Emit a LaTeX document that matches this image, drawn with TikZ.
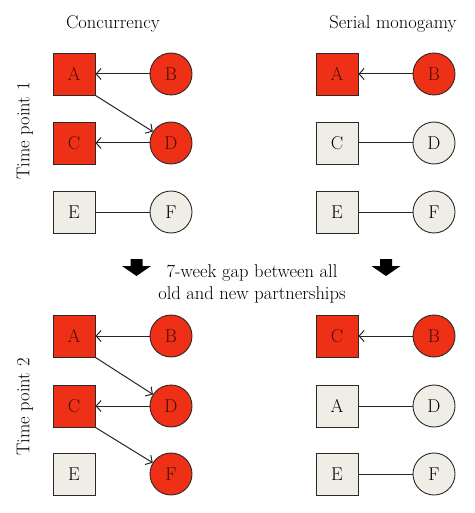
\documentclass[tikz,border=0pt]{standalone}
\usetikzlibrary{arrows.meta}
\definecolor{nred}{RGB}{238,48,22}
\definecolor{ngray}{RGB}{239,238,230}
\definecolor{nedge}{RGB}{45,40,38}
\definecolor{rtext}{RGB}{70,12,5}
\begin{document}
\begin{tikzpicture}[x=1pt,y=-1pt,
  every node/.style={font=\fontsize{18.5}{22}\selectfont},
  sq/.style={draw=nedge,line width=0.9pt,minimum size=42pt,inner sep=0pt},
  ci/.style={draw=nedge,line width=0.9pt,circle,minimum size=42pt,inner sep=0pt},
  red/.style={fill=nred,text=rtext},
  gry/.style={fill=ngray,text=black},
  lnk/.style={draw=black!85,line width=1pt},
  arr/.style={lnk,-{Straight Barb[length=5pt,width=11pt,line width=1pt]}},
  blk/.style={fill=black},
  lab/.style={font=\fontsize{18.5}{22}\selectfont}
]
\useasboundingbox (0,0) rectangle (474,513);
% headers
\node[lab] (hc) at (113,24) {Concurrency};
\node[lab] (hs) at (393,24) {Serial monogamy};
\node[lab,rotate=90] (t1) at (25,131) {Time point 1};
\node[lab,rotate=90] (t2) at (25,407) {Time point 2};
% time point 1, concurrency
\node[sq,red] (a1) at (74,74) {A};
\node[ci,red] (b1) at (171,74) {B};
\node[sq,red] (c1) at (74,143) {C};
\node[ci,red] (d1) at (171,143) {D};
\node[sq,gry] (e1) at (74,212) {E};
\node[ci,gry] (f1) at (171,212) {F};
\draw[arr] (b1) -- (a1);
\draw[arr] (a1.south east) -- (d1);
\draw[arr] (d1) -- (c1);
\draw[lnk] (e1) -- (f1);
% time point 1, serial
\node[sq,red] (a2) at (337,74) {A};
\node[ci,red] (b2) at (434,74) {B};
\node[sq,gry] (c2) at (337,143) {C};
\node[ci,gry] (d2) at (434,143) {D};
\node[sq,gry] (e2) at (337,212) {E};
\node[ci,gry] (f2) at (434,212) {F};
\draw[arr] (b2) -- (a2);
\draw[lnk] (c2) -- (d2);
\draw[lnk] (e2) -- (f2);
% gap
\node[lab,align=center] (gap) at (252,284) {7-week gap between all\\old and new partnerships};
\fill[blk] (130.5,259) -- (142.5,259) -- (142.5,266) -- (151,266) -- (136.5,276) -- (122,266) -- (130.5,266) -- cycle;
\fill[blk] (380,259) -- (392,259) -- (392,266) -- (400.5,266) -- (386,276) -- (371.5,266) -- (380,266) -- cycle;
% time point 2, concurrency
\node[sq,red] (a3) at (74,336) {A};
\node[ci,red] (b3) at (171,336) {B};
\node[sq,red] (c3) at (74,406) {C};
\node[ci,red] (d3) at (171,406) {D};
\node[sq,gry] (e3) at (74,474) {E};
\node[ci,red] (f3) at (171,474) {F};
\draw[arr] (b3) -- (a3);
\draw[arr] (a3.south east) -- (d3);
\draw[arr] (d3) -- (c3);
\draw[arr] (c3.south east) -- (f3);
% time point 2, serial
\node[sq,red] (a4) at (337,336) {C};
\node[ci,red] (b4) at (434,336) {B};
\node[sq,gry] (c4) at (337,406) {A};
\node[ci,gry] (d4) at (434,406) {D};
\node[sq,gry] (e4) at (337,474) {E};
\node[ci,gry] (f4) at (434,474) {F};
\draw[arr] (b4) -- (a4);
\draw[lnk] (c4) -- (d4);
\draw[lnk] (e4) -- (f4);
\end{tikzpicture}
\end{document}
